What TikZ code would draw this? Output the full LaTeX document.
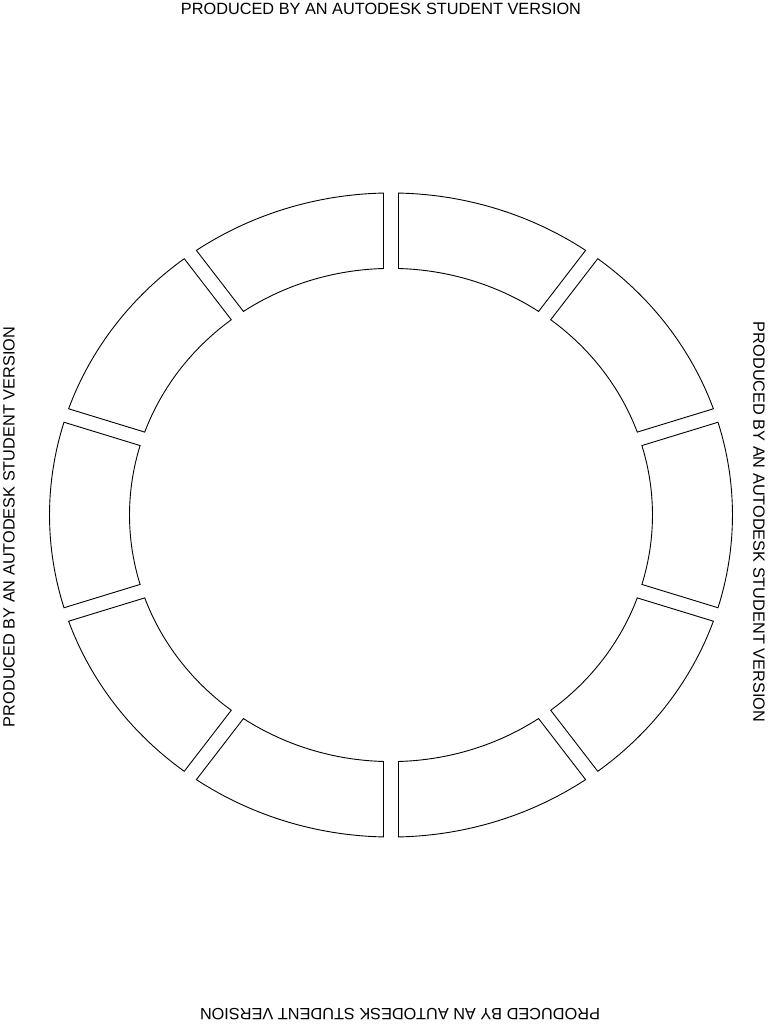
\documentclass[tikz,border=0pt]{standalone}
\usepackage{fontspec}
\setmainfont{Liberation Sans}
\begin{document}
\begin{tikzpicture}[x=1pt,y=1pt,
  seg/.style={draw=black,line width=0.9pt,line join=miter},
  wm/.style={font=\fontsize{16.3}{17}\selectfont,inner sep=0pt}]
\useasboundingbox[fill=white] (-391,-509) rectangle (377,515);
\begin{scope}[yscale=0.943]
\foreach \k in {0,...,9}{
  \pgfmathsetmacro{\a}{18+36*\k}
  \pgfmathsetmacro{\b}{54+36*\k}
  \draw[seg] ({\a+1.258}:341.5) arc[start angle={\a+1.258}, end angle={\b-1.258}, radius=341.5]
    -- ({\b-1.644}:261.5) arc[start angle={\b-1.644}, end angle={\a+1.644}, radius=261.5] -- cycle;
}
\end{scope}
\node[wm] (wtop) at (-10,506) {PRODUCED BY AN AUTODESK STUDENT VERSION};
\node[wm,rotate=180] (wbot) at (9,-499) {PRODUCED BY AN AUTODESK STUDENT VERSION};
\node[wm,rotate=90] (wleft) at (-382,-12) {PRODUCED BY AN AUTODESK STUDENT VERSION};
\node[wm,rotate=-90] (wright) at (368,-7) {PRODUCED BY AN AUTODESK STUDENT VERSION};
\end{tikzpicture}
\end{document}
